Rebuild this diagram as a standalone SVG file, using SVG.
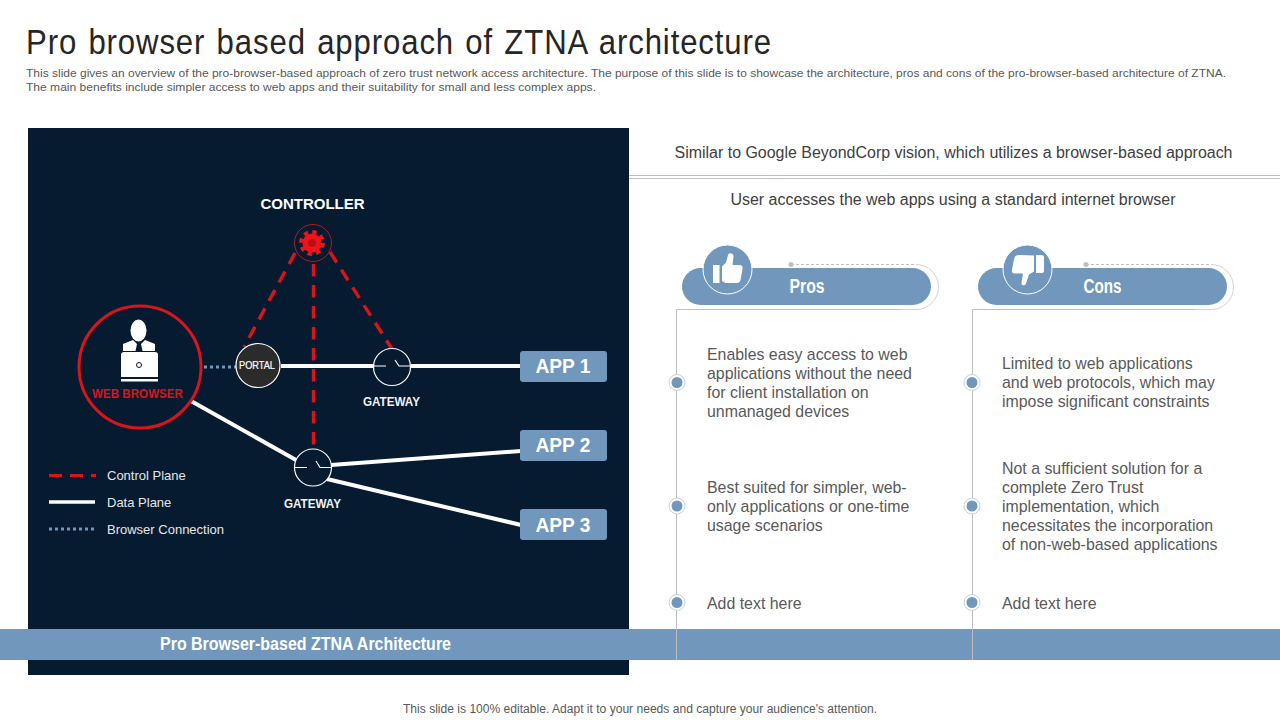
<svg xmlns="http://www.w3.org/2000/svg" width="1280" height="720" viewBox="0 0 1280 720">
<style>
text{font-family:"Liberation Sans",Arial,sans-serif}
.body{font-size:15.9px;fill:#595959}
.sub{font-size:11.5px;fill:#595959}
.head{font-size:16px;fill:#404040}
.app{font-size:20px;font-weight:bold;fill:#fff;text-anchor:middle}
.appbox{fill:#7198bc}
.lbl{font-size:12px;font-weight:bold;fill:#f2f2f2;text-anchor:middle}
.leg{font-size:13px;fill:#e6e6e6}
.ctrl{stroke:#d8141c;stroke-width:3.4;stroke-dasharray:12.500 8.500;fill:none}
.data{stroke:#fff;stroke-width:4;fill:none}
.conn{stroke:#7198bc;stroke-width:3;stroke-dasharray:3 3;fill:none}
.gw{fill:#061b30;stroke:#fff;stroke-width:1.2}
.sw{stroke:#fff;stroke-width:1.2;fill:none}
.rail{stroke:#bfbfbf;stroke-width:1;fill:none}
.arc{stroke:#d6d2ce;stroke-width:1;fill:none}
.dash{stroke:#bfbfbf;stroke-width:1;stroke-dasharray:3 2;fill:none}
.halo{fill:#fff;stroke:#c3d2e0;stroke-width:1}
.pill{fill:#7198bc}
.pt{font-size:20px;font-weight:bold;fill:#fff;text-anchor:middle}
</style>
<rect width="1280" height="720" fill="#fff"/>
<g id="header">
<text x="26" y="54" font-size="35.500" letter-spacing="1" word-spacing="2" fill="#262626" textLength="746" lengthAdjust="spacingAndGlyphs">Pro browser based approach of ZTNA architecture</text>
<text x="26" y="77" class="sub" textLength="1200" lengthAdjust="spacingAndGlyphs">This slide gives an overview of the pro-browser-based approach of zero trust network access architecture. The purpose of this slide is to showcase the architecture, pros and cons of the pro-browser-based architecture of ZTNA.</text>
<text x="26" y="91" class="sub" textLength="570" lengthAdjust="spacingAndGlyphs">The main benefits include simpler access to web apps and their suitability for small and less complex apps.</text>
</g>
<g id="panel"><rect x="28" y="128" width="601" height="547" fill="#061b30"/></g>
<g id="connectors">
<path class="ctrl" d="M313.500 264V446"/>
<path class="ctrl" d="M295 253L244 347"/>
<path class="ctrl" d="M330 252L392 349"/>
<path class="conn" d="M204 367H236"/>
<path class="data" d="M281 366H374M411 366H521"/>
<path class="data" d="M191 401L296 460"/>
<path class="data" d="M331 465L521 451"/>
<path class="data" d="M327 479L521 525"/>
</g>
<g id="controller">
<text x="312.500" y="209" font-size="15" font-weight="bold" fill="#fff" text-anchor="middle">CONTROLLER</text>
<circle cx="313" cy="243" r="18.500" fill="#061b30" stroke="#b01a24" stroke-width="1"/>
<circle cx="312" cy="243" r="9.500" fill="#f2121a"/>
<circle cx="312" cy="243" r="11" fill="none" stroke="#f2121a" stroke-width="4" stroke-dasharray="4.320 4.320"/>
<circle cx="312" cy="243" r="4" fill="#b80f18"/>
</g>
<g id="web-browser">
<circle cx="140" cy="367" r="61" fill="#061b30" stroke="#d8141c" stroke-width="3"/>
<ellipse cx="138.500" cy="330.500" rx="8" ry="11" fill="#fff"/>
<path d="M123 351V344L133 340L137 344L135.500 351H142.500L141 344L145 340L155 344V351Z" fill="#fff"/>
<path d="M121 355Q121 352 124 352H155Q158 352 158 355V377H121Z" fill="#fff"/>
<circle cx="139" cy="365" r="2.500" fill="#fff" stroke="#061b30" stroke-width="1"/>
<rect x="121" y="379" width="37" height="2.500" fill="#fff"/>
<text x="137.500" y="398" font-size="12" font-weight="bold" fill="#d8141c" text-anchor="middle" textLength="91" lengthAdjust="spacingAndGlyphs">WEB BROWSER</text>
</g>
<g id="portal">
<circle cx="258" cy="365.500" r="22" fill="#2b2b2b" stroke="#fff" stroke-width="1.200"/>
<text x="257" y="368.500" font-size="10" fill="#fff" stroke="#fff" stroke-width=".2" text-anchor="middle" textLength="36" lengthAdjust="spacingAndGlyphs">PORTAL</text>
</g>
<g id="gateway-1">
<circle class="gw" cx="392" cy="367" r="18.500"/>
<path class="sw" d="M374 366H386M395 360L399 366H410"/>
<text x="391.500" y="406" class="lbl" textLength="57" lengthAdjust="spacingAndGlyphs">GATEWAY</text>
</g>
<g id="gateway-2">
<circle class="gw" cx="313" cy="467.500" r="18.500"/>
<path class="sw" d="M295 467.500H307M316 461L320 467.500H331"/>
<text x="312.500" y="508" class="lbl" textLength="57" lengthAdjust="spacingAndGlyphs">GATEWAY</text>
</g>
<g id="app-1"><rect class="appbox" x="520" y="351" width="87" height="31" rx="3"/><text class="app" x="563" y="373" textLength="55" lengthAdjust="spacingAndGlyphs">APP 1</text></g>
<g id="app-2"><rect class="appbox" x="520" y="430" width="87" height="31" rx="3"/><text class="app" x="563" y="452" textLength="55" lengthAdjust="spacingAndGlyphs">APP 2</text></g>
<g id="app-3"><rect class="appbox" x="520" y="509" width="87" height="31" rx="3"/><text class="app" x="563" y="532" textLength="55" lengthAdjust="spacingAndGlyphs">APP 3</text></g>
<g id="legend">
<path class="ctrl" d="M49 475.500H96" style="stroke-dasharray:13 8;stroke-width:3"/>
<path class="data" d="M49 502H95" style="stroke-width:3.500"/>
<path class="conn" d="M49 529H95"/>
<text class="leg" x="107" y="480">Control Plane</text>
<text class="leg" x="107" y="507">Data Plane</text>
<text class="leg" x="107" y="534">Browser Connection</text>
</g>
<g id="banner">
<rect x="0" y="629" width="1280" height="31" fill="#7198bc"/>
<text x="160" y="650" font-size="19" font-weight="bold" fill="#fff" textLength="291" lengthAdjust="spacingAndGlyphs">Pro Browser-based ZTNA Architecture</text>
</g>
<g id="summary">
<text class="head" x="953.500" y="158" text-anchor="middle" textLength="558" lengthAdjust="spacingAndGlyphs">Similar to Google BeyondCorp vision, which utilizes a browser-based approach</text>
<path d="M629 175.500H1280M629 178.500H1280" stroke="#bfbfbf" stroke-width="1"/>
<text class="head" x="953" y="205" text-anchor="middle" textLength="445" lengthAdjust="spacingAndGlyphs">User accesses the web apps using a standard internet browser</text>
</g>
<g id="pros">
<path class="rail" d="M676.500 660V309.500H900"/>
<path class="arc" d="M900 309.500H916A22.500 22.500 0 0 0 916 264.500"/>
<path class="dash" d="M791 264.500H916"/>
<circle cx="791" cy="264.500" r="2.500" fill="#bfbfbf"/>
<rect class="pill" x="682" y="268" width="249" height="37" rx="18.500"/>
<circle cx="727.500" cy="269.500" r="24.500" fill="#7198bc" stroke="#fff" stroke-width="1"/>
<path d="M713 265h6.500v18h-6.500zM722 266.500l4-4 2-7.500c1-3 6-2 5.500 2l-1 8h7c3 0 3.500 2 3 4l-2 11c-.5 2-1.500 3-4 3h-11l-3.500-2z" fill="#fff"/>
<text class="pt" x="807" y="293" textLength="35" lengthAdjust="spacingAndGlyphs">Pros</text>
<g class="item"><circle class="halo" cx="677" cy="382.500" r="8"/><circle cx="677" cy="382.500" r="5.500" fill="#7198bc"/></g>
<g class="item"><circle class="halo" cx="677" cy="506" r="8"/><circle cx="677" cy="506" r="5.500" fill="#7198bc"/></g>
<g class="item"><circle class="halo" cx="677" cy="602.500" r="8"/><circle cx="677" cy="602.500" r="5.500" fill="#7198bc"/></g>
<text class="body"><tspan x="707" y="360">Enables easy access to web</tspan><tspan x="707" y="379">applications without the need</tspan><tspan x="707" y="398">for client installation on</tspan><tspan x="707" y="417">unmanaged devices</tspan></text>
<text class="body"><tspan x="707" y="493">Best suited for simpler, web-</tspan><tspan x="707" y="512">only applications or one-time</tspan><tspan x="707" y="531">usage scenarios</tspan></text>
<text class="body" x="707" y="609">Add text here</text>
</g>
<g id="cons">
<path class="rail" d="M972.500 660V309.500H1195"/>
<path class="arc" d="M1195 309.500H1211A22.500 22.500 0 0 0 1211 264.500"/>
<path class="dash" d="M1086 264.500H1211"/>
<circle cx="1086" cy="264.500" r="2.500" fill="#bfbfbf"/>
<rect class="pill" x="978" y="268" width="249" height="37" rx="18.500"/>
<circle cx="1027.500" cy="269.500" r="24.500" fill="#7198bc" stroke="#fff" stroke-width="1"/>
<path d="M1036 255h6c1 0 2 1 2 2v14c0 1-1 2-2 2h-6zM1034 255.500v16l-5 3-3 9c-1 3-5 2-4.500-1l1.500-9h-8c-3 0-3.500-2-3-4l2-10c.5-3 2-4.500 5-4.500z" fill="#fff"/>
<text class="pt" x="1102.500" y="293" textLength="38" lengthAdjust="spacingAndGlyphs">Cons</text>
<g class="item"><circle class="halo" cx="972" cy="382.500" r="8"/><circle cx="972" cy="382.500" r="5.500" fill="#7198bc"/></g>
<g class="item"><circle class="halo" cx="972" cy="506" r="8"/><circle cx="972" cy="506" r="5.500" fill="#7198bc"/></g>
<g class="item"><circle class="halo" cx="972" cy="602.500" r="8"/><circle cx="972" cy="602.500" r="5.500" fill="#7198bc"/></g>
<text class="body"><tspan x="1002" y="369">Limited to web applications</tspan><tspan x="1002" y="388">and web protocols, which may</tspan><tspan x="1002" y="407">impose significant constraints</tspan></text>
<text class="body"><tspan x="1002" y="474">Not a sufficient solution for a</tspan><tspan x="1002" y="493">complete Zero Trust</tspan><tspan x="1002" y="512">implementation, which</tspan><tspan x="1002" y="531">necessitates the incorporation</tspan><tspan x="1002" y="550">of non-web-based applications</tspan></text>
<text class="body" x="1002" y="609">Add text here</text>
</g>
<g id="footer"><text x="640" y="713" font-size="12" fill="#595959" text-anchor="middle" textLength="474" lengthAdjust="spacingAndGlyphs">This slide is 100% editable. Adapt it to your needs and capture your audience's attention.</text></g>
</svg>
